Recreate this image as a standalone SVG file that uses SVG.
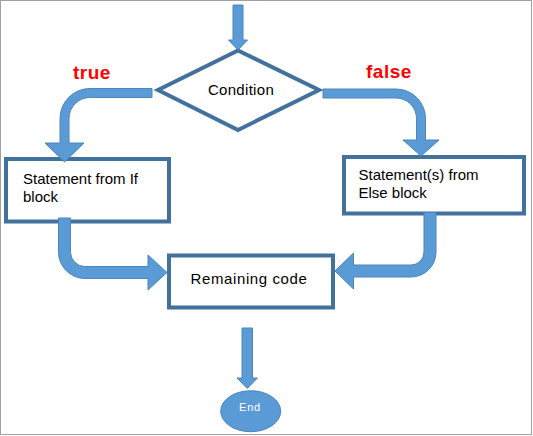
<svg xmlns="http://www.w3.org/2000/svg" width="533" height="436" viewBox="0 0 533 436">
<style>
.box{fill:#fff;stroke:#41719C;stroke-width:4}
.arr{fill:#5B9BD5;stroke:#4A86C0;stroke-width:1;stroke-linejoin:miter}
.t{font-family:"Liberation Sans",Arial,sans-serif;font-size:15px;fill:#000}
.lbl{font-family:"Liberation Sans",Arial,sans-serif;font-size:19px;font-weight:bold;fill:#FF0000;letter-spacing:0.5px}
</style>
<rect x="0.5" y="0.5" width="531" height="434" fill="#fff" stroke="#A0A0A0" stroke-width="1"/>
<g id="condition">
<polygon class="box" points="238,50.5 319,90 238,130 158,90"/>
<text class="t" x="241" y="95" text-anchor="middle" style="letter-spacing:0.3px">Condition</text>
</g>
<g id="if-block">
<rect class="box" x="6" y="159" width="163" height="62.5"/>
<text class="t" x="23" y="184"><tspan x="23">Statement from If</tspan><tspan x="23" y="202">block</tspan></text>
</g>
<g id="else-block">
<rect class="box" x="344" y="157" width="180" height="56.5"/>
<text class="t" x="358.5" y="180"><tspan x="358.5">Statement(s) from</tspan><tspan x="358.5" y="198">Else block</tspan></text>
</g>
<g id="remaining">
<rect class="box" x="169" y="255.5" width="164" height="52"/>
<text class="t" x="249" y="284" text-anchor="middle" style="letter-spacing:0.6px">Remaining code</text>
</g>
<g id="end">
<ellipse cx="250.7" cy="411.2" rx="30" ry="20.5" fill="#5B9BD5" stroke="#4A86C0" stroke-width="1"/>
<text x="250" y="410.5" text-anchor="middle" font-family="Liberation Sans, Arial, sans-serif" font-size="11" fill="#fff" letter-spacing="0.8">End</text>
</g>
<g id="connectors">
<path class="arr" d="M233,5 H243 V40 H247.5 L238,50 L228.5,40 H233 Z"/>
<path class="arr" d="M152,88.5 H90 A30,30 0 0 0 60,118.5 V143 H45 L64.5,162 L84,143 H69 V118.5 A21,21 0 0 1 90,97.5 H152 Z"/>
<path class="arr" d="M323,89 H396 A29.5,29.5 0 0 1 425.5,118.5 V140 H439 L421,156 L403,140 H416.5 V118.5 A20.5,20.5 0 0 0 396,98 H323 Z"/>
<path class="arr" d="M58.5,218 H70.5 V252 A14.5,14.5 0 0 0 85,266.5 H148 V255 L167,272.5 L148,290 V278.5 H85 A26.5,26.5 0 0 1 58.5,252 Z"/>
<path class="arr" d="M424,212.5 H436 V252 A25,25 0 0 1 411,277 H353.5 V289 L335,271 L353.5,253 V265 H411 A13,13 0 0 0 424,252 Z"/>
<path class="arr" d="M242,328 H252.5 V378 H257.5 L247.25,388.5 L237,378 H242 Z"/>
</g>
<text class="lbl" x="73" y="79.3">true</text>
<text class="lbl" x="366" y="78.3">false</text>
</svg>
